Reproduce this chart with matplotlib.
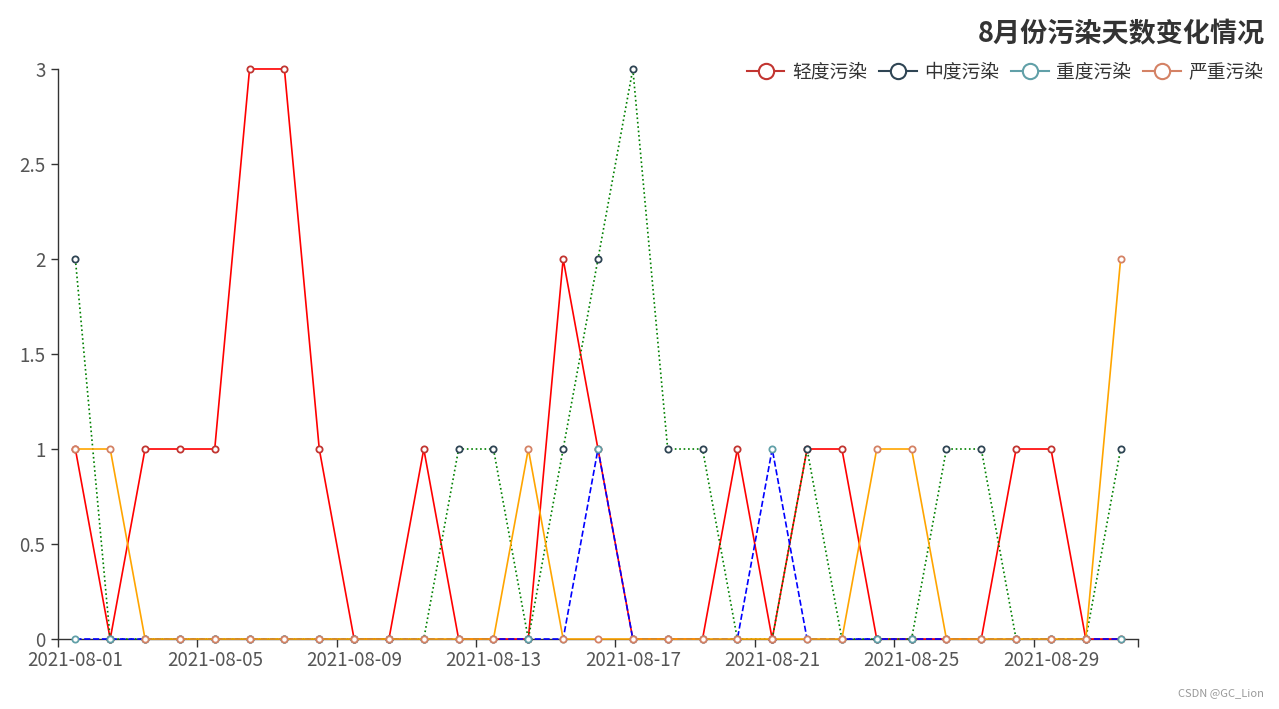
import matplotlib.pyplot as plt
from matplotlib.lines import Line2D

plt.rcParams['font.family'] = ['Noto Sans CJK SC', 'DejaVu Sans']

# data: days of August 2021 and polluted-day counts per level
dates = ['2021-08-%02d' % d for d in range(1, 32)]
light = [1, 0, 1, 1, 1, 3, 3, 1, 0, 0, 1, 0, 0, 0, 2, 1, 0, 0, 0, 1, 0, 1, 1, 0, 0, 0, 0, 1, 1, 0, 0]
moderate = [2, 0, 0, 0, 0, 0, 0, 0, 0, 0, 0, 1, 1, 0, 1, 2, 3, 1, 1, 0, 0, 1, 0, 0, 0, 1, 1, 0, 0, 0, 1]
heavy = [0, 0, 0, 0, 0, 0, 0, 0, 0, 0, 0, 0, 0, 0, 0, 1, 0, 0, 0, 0, 1, 0, 0, 0, 0, 0, 0, 0, 0, 0, 0]
severe = [1, 1, 0, 0, 0, 0, 0, 0, 0, 0, 0, 0, 0, 1, 0, 0, 0, 0, 0, 0, 0, 0, 0, 1, 1, 0, 0, 0, 0, 0, 2]
names = ['轻度污染', '中度污染', '重度污染', '严重污染']

line_colors = ['red', 'green', 'blue', 'orange']
line_styles = ['-', ':', '--', '-']
marker_colors = ['#c23531', '#2f4554', '#61a0a8', '#d48265']

fig = plt.figure(figsize=(12.79, 7.09), dpi=100)
ax = fig.add_axes([0.0453, 0.0987, 0.8445, 0.804])

x = list(range(len(dates)))
for vals, lc, ls, mc in zip([light, moderate, heavy, severe], line_colors, line_styles, marker_colors):
    ax.plot(x, vals, color=lc, linestyle=ls, linewidth=1.2,
            marker='o', markersize=4.5, markerfacecolor='white',
            markeredgecolor=mc, markeredgewidth=1.3, clip_on=False, zorder=3)

ax.set_xlim(-0.5, len(dates) - 0.5)
ax.set_ylim(0, 3)
ax.set_yticks([0, 0.5, 1, 1.5, 2, 2.5, 3])
ax.set_yticklabels(['0', '0.5', '1', '1.5', '2', '2.5', '3'])

# ticks on category boundaries, labels on the points
ax.set_xticks([i - 0.5 for i in range(0, len(dates), 4)] + [len(dates) - 0.5])
ax.set_xticklabels([])
ax.set_xticks(list(range(0, len(dates), 4)), minor=True)
ax.set_xticklabels(dates[::4], minor=True)
ax.tick_params(axis='x', which='major', length=6, color='#333333', width=1)
ax.tick_params(axis='x', which='minor', length=0, labelsize=13.5, labelcolor='#555555', pad=8)
ax.tick_params(axis='y', length=5, color='#333333', width=1, labelsize=13.5,
               labelcolor='#555555', pad=4)

for side in ['top', 'right']:
    ax.spines[side].set_visible(False)
for side in ['left', 'bottom']:
    ax.spines[side].set_color('#333333')
    ax.spines[side].set_linewidth(1)

fig.text(0.989, 0.951, '8月份污染天数变化情况', ha='right', va='center',
         fontsize=19.5, fontweight='bold', color='#333333')

handles = [Line2D([0], [0], color=mc, linewidth=1.5, marker='o', markersize=11,
                  markerfacecolor='white', markeredgecolor=mc, markeredgewidth=1.5)
           for mc in marker_colors]
fig.legend(handles, names, loc='upper right', bbox_to_anchor=(1.001, 0.937),
           ncol=4, frameon=False, fontsize=13.5, handlelength=2.0, handletextpad=0.4,
           columnspacing=0.65, labelcolor='#333333')

fig.text(0.988, 0.022, 'CSDN @GC_Lion', ha='right', va='center', fontsize=8, color='#999999')

fig.savefig('out.png', dpi=100)
